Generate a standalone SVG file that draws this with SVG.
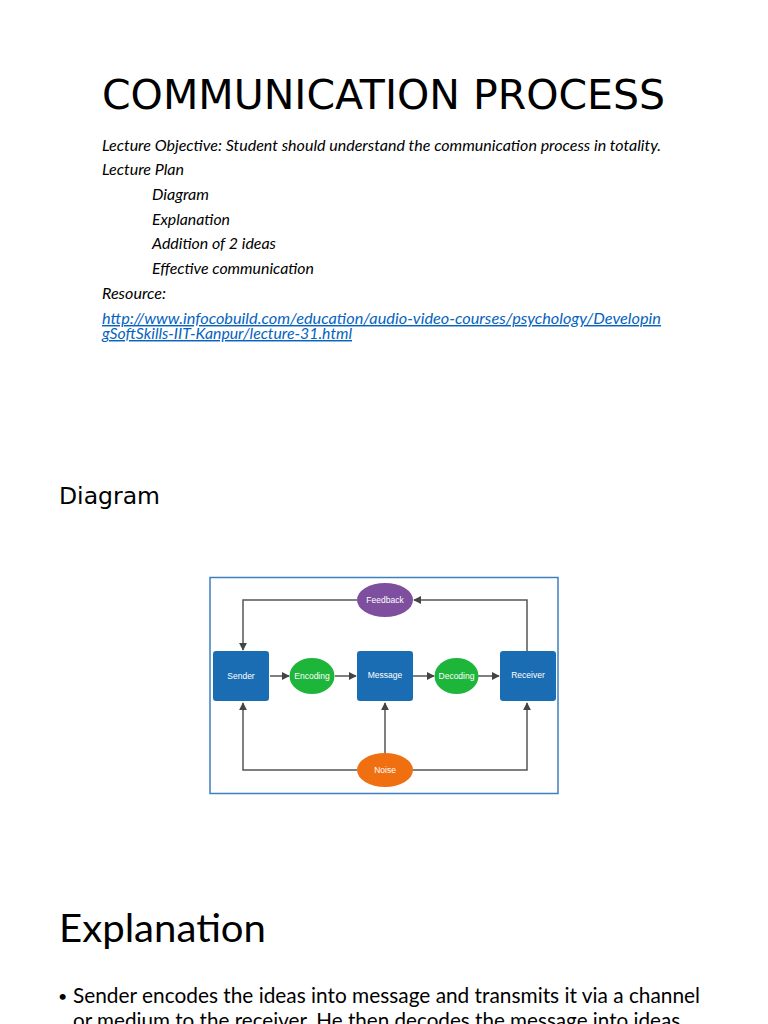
<svg xmlns="http://www.w3.org/2000/svg" width="768" height="1024" viewBox="0 0 768 1024">
<style>
.title{font-family:"DejaVu Sans",sans-serif;fill:#000}
.it{font-family:Lato,"Liberation Sans",sans-serif;font-style:italic;font-size:15.5px;fill:#000}
.link{font-family:Lato,"Liberation Sans",sans-serif;font-style:italic;font-size:14.5px;fill:#0563c1;text-decoration:underline}
.body{font-family:Lato,"Liberation Sans",sans-serif;fill:#000}
.box{fill:#1b6db3}
.lbl{font-family:"Liberation Sans",Arial,sans-serif;font-size:8.5px;fill:#fff;text-anchor:middle}
.ln{fill:none;stroke:#555;stroke-width:1.5}
</style>
<defs>
<marker id="ah" viewBox="0 0 10 10" refX="9" refY="5" markerWidth="8" markerHeight="8" markerUnits="userSpaceOnUse" orient="auto">
<path d="M0,0 L10,5 L0,10 z" fill="#444"/>
</marker>
</defs>
<rect width="768" height="1024" fill="#fff"/>
<text class="title" x="102" y="109" font-size="41" textLength="563" lengthAdjust="spacingAndGlyphs">COMMUNICATION PROCESS</text>
<text class="it" x="102" y="151" textLength="559" lengthAdjust="spacingAndGlyphs">Lecture Objective: Student should understand the communication process in totality.</text>
<text class="it" x="102" y="175" textLength="82" lengthAdjust="spacingAndGlyphs">Lecture Plan</text>
<text class="it" x="152" y="200" textLength="57" lengthAdjust="spacingAndGlyphs">Diagram</text>
<text class="it" x="152" y="225" textLength="78" lengthAdjust="spacingAndGlyphs">Explanation</text>
<text class="it" x="152" y="249" textLength="124" lengthAdjust="spacingAndGlyphs">Addition of 2 ideas</text>
<text class="it" x="152" y="274" textLength="162" lengthAdjust="spacingAndGlyphs">Effective communication</text>
<text class="it" x="102" y="299" textLength="64" lengthAdjust="spacingAndGlyphs">Resource:</text>
<text class="link" x="102" y="324" textLength="559" lengthAdjust="spacingAndGlyphs">http://www.infocobuild.com/education/audio-video-courses/psychology/Developin</text>
<text class="link" x="102" y="339" textLength="250" lengthAdjust="spacingAndGlyphs">gSoftSkills-IIT-Kanpur/lecture-31.html</text>
<text class="title" x="59" y="504" font-size="23.5" textLength="101" lengthAdjust="spacingAndGlyphs">Diagram</text>
<rect x="210" y="577.5" width="348" height="216" fill="#fff" stroke="#3d7fc0" stroke-width="1.5"/>
<g id="connectors">
<path class="ln" d="M527,651 V600 H414" marker-end="url(#ah)"/>
<path class="ln" d="M357,600 H243 V650" marker-end="url(#ah)"/>
<path class="ln" d="M270,676 H289" marker-end="url(#ah)"/>
<path class="ln" d="M335,676 H356" marker-end="url(#ah)"/>
<path class="ln" d="M413,676 H434" marker-end="url(#ah)"/>
<path class="ln" d="M478,676 H499" marker-end="url(#ah)"/>
<path class="ln" d="M357,770 H243 V703" marker-end="url(#ah)"/>
<path class="ln" d="M413,770 H527 V703" marker-end="url(#ah)"/>
<path class="ln" d="M385,753 V703" marker-end="url(#ah)"/>
</g>
<g id="feedback"><ellipse cx="385" cy="600" rx="28" ry="17" fill="#7d4f9e"/><text class="lbl" x="385" y="603">Feedback</text></g>
<g id="sender"><rect class="box" x="213" y="651" width="56" height="50" rx="3"/><text class="lbl" x="241" y="679">Sender</text></g>
<g id="encoding"><ellipse cx="312" cy="676" rx="22.5" ry="18" fill="#1db53a"/><text class="lbl" x="312" y="679">Encoding</text></g>
<g id="message"><rect class="box" x="357" y="651" width="56" height="50" rx="3"/><text class="lbl" x="385" y="678">Message</text></g>
<g id="decoding"><ellipse cx="456.5" cy="676" rx="22" ry="18" fill="#1db53a"/><text class="lbl" x="456.5" y="679">Decoding</text></g>
<g id="receiver"><rect class="box" x="500" y="651" width="56" height="50" rx="3"/><text class="lbl" x="528" y="678">Receiver</text></g>
<g id="noise"><ellipse cx="385" cy="770" rx="28" ry="17" fill="#f07011"/><text class="lbl" x="385" y="773">Noise</text></g>
<text class="body" x="59" y="942" font-size="38" textLength="207" lengthAdjust="spacingAndGlyphs">Explanation</text>
<text class="body" x="58" y="1002" font-size="16">•</text>
<text class="body" x="73" y="1003" font-size="21" textLength="627" lengthAdjust="spacingAndGlyphs">Sender encodes the ideas into message and transmits it via a channel</text>
<text class="body" x="73" y="1028" font-size="21" textLength="612" lengthAdjust="spacingAndGlyphs">or medium to the receiver. He then decodes the message into ideas.</text>
</svg>
